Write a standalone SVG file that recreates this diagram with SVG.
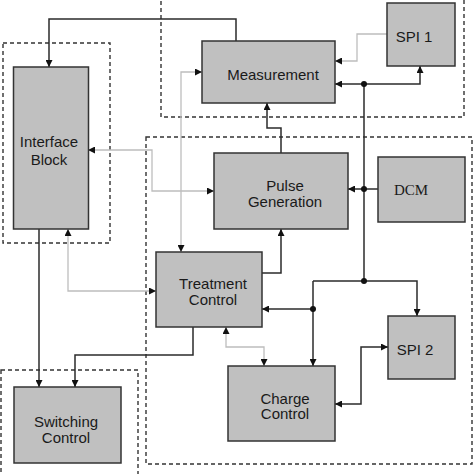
<svg xmlns="http://www.w3.org/2000/svg" width="474" height="474" viewBox="0 0 474 474">
<style>
.box{fill:#c0c0c0;stroke:#333;stroke-width:1.5}
.grp{fill:none;stroke:#333;stroke-width:1.4;stroke-dasharray:4,3}
.blk{fill:none;stroke:#2b2b2b;stroke-width:1.5}
.gry{fill:none;stroke:#bdbdbd;stroke-width:1.3}
.dot{fill:#111}
text{font-family:"Liberation Sans",Arial,sans-serif;font-size:15px;fill:#1a1a1a;text-anchor:middle}
.serif{font-family:"Liberation Serif","Times New Roman",serif}
</style>
<defs>
<marker id="ah" viewBox="0 0 10 10" refX="10" refY="5" markerWidth="8" markerHeight="7" markerUnits="userSpaceOnUse" orient="auto-start-reverse">
<path d="M0,0 L10,5 L0,10 z" fill="#111"/>
</marker>
</defs>
<rect width="474" height="474" fill="#fff"/>
<g id="groups">
<rect class="grp" x="161" y="-5" width="303" height="122"/>
<rect class="grp" x="3" y="43" width="107" height="200"/>
<rect class="grp" x="146" y="137" width="326" height="327"/>
<rect class="grp" x="1" y="370" width="137" height="110"/>
</g>
<g id="connectors">
<path class="blk" d="M236,41 V19 H49 V67" marker-end="url(#ah)"/>
<path class="blk" d="M364,84 H335" marker-end="url(#ah)"/>
<path class="blk" d="M364,84 H420 V66" marker-end="url(#ah)"/>
<path class="blk" d="M364,84 V281"/>
<path class="blk" d="M378,189 H348" marker-end="url(#ah)"/>
<path class="blk" d="M281,153 V128 H267 V103" marker-end="url(#ah)"/>
<path class="blk" d="M262,273 H281 V229" marker-end="url(#ah)"/>
<path class="blk" d="M313,281 H417 V316" marker-end="url(#ah)"/>
<path class="blk" d="M313,281 V366" marker-end="url(#ah)"/>
<path class="blk" d="M313,309 H262" marker-end="url(#ah)"/>
<path class="blk" d="M335,404 H361 V347 H388" marker-start="url(#ah)" marker-end="url(#ah)"/>
<path class="blk" d="M39,229 V387" marker-end="url(#ah)"/>
<path class="blk" d="M193,327 V355 H75 V387" marker-end="url(#ah)"/>
<path class="gry" d="M202,72 H181 V252" marker-start="url(#ah)" marker-end="url(#ah)"/>
<path class="gry" d="M88,150 H152 V191 H214" marker-start="url(#ah)" marker-end="url(#ah)"/>
<path class="gry" d="M68,229 V291 H156" marker-start="url(#ah)" marker-end="url(#ah)"/>
<path class="gry" d="M226,327 V347 H264 V366" marker-start="url(#ah)" marker-end="url(#ah)"/>
<path class="gry" d="M387,34 H357 V61 H335" marker-end="url(#ah)"/>
<circle class="dot" cx="364" cy="84" r="3"/>
<circle class="dot" cx="364" cy="189" r="3"/>
<circle class="dot" cx="364" cy="281" r="3"/>
<circle class="dot" cx="313" cy="309" r="3"/>
</g>
<g id="interface">
<rect class="box" x="13.5" y="67" width="75" height="162"/>
<text x="49" y="147">Interface</text>
<text x="49" y="165">Block</text>
</g>
<g id="measurement">
<rect class="box" x="202" y="41" width="133" height="62"/>
<text x="273" y="80">Measurement</text>
</g>
<g id="spi1">
<rect class="box" x="387" y="3" width="68" height="63"/>
<text x="414" y="42">SPI 1</text>
</g>
<g id="pulse">
<rect class="box" x="214" y="153" width="134" height="76"/>
<text x="285" y="191">Pulse</text>
<text x="285" y="206.5">Generation</text>
</g>
<g id="dcm">
<rect class="box" x="378" y="157" width="87" height="65"/>
<text class="serif" x="411" y="195">DCM</text>
</g>
<g id="treatment">
<rect class="box" x="156" y="252" width="106" height="75"/>
<text x="213" y="289">Treatment</text>
<text x="213" y="304.5">Control</text>
</g>
<g id="spi2">
<rect class="box" x="388" y="316" width="67" height="63"/>
<text x="415" y="355">SPI 2</text>
</g>
<g id="charge">
<rect class="box" x="228" y="366" width="107" height="75"/>
<text x="285" y="403.5">Charge</text>
<text x="285" y="419">Control</text>
</g>
<g id="switching">
<rect class="box" x="14" y="387" width="107" height="76"/>
<text x="66" y="427">Switching</text>
<text x="66" y="443">Control</text>
</g>
</svg>
